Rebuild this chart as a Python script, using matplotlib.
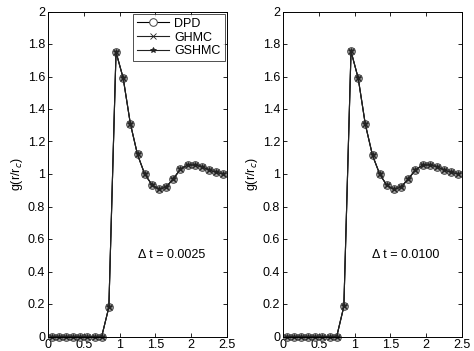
import numpy as np
import matplotlib
matplotlib.use("Agg")
from matplotlib import pyplot as plt

plt.rcParams["font.family"] = ["Liberation Sans", "DejaVu Sans"]
plt.rcParams["font.size"] = 9

# r/rc bins and g(r) values
r = [0.05, 0.15, 0.25, 0.35, 0.45, 0.55, 0.65, 0.75, 0.85, 0.95,
     1.05, 1.15, 1.25, 1.35, 1.45, 1.55, 1.65, 1.75, 1.85, 1.95,
     2.05, 2.15, 2.25, 2.35, 2.45]
g_left = [0, 0, 0, 0, 0, 0, 0, 0, 0.18, 1.75,
          1.59, 1.31, 1.12, 1.00, 0.935, 0.905, 0.92, 0.97, 1.03, 1.055,
          1.055, 1.045, 1.025, 1.01, 1.00]
g_right = [0, 0, 0, 0, 0, 0, 0, 0, 0.185, 1.755,
           1.59, 1.305, 1.115, 1.00, 0.93, 0.905, 0.92, 0.97, 1.025, 1.055,
           1.055, 1.045, 1.025, 1.01, 1.00]
methods = ["DPD", "GHMC", "GSHMC"]
marks = ["o", "x", "*"]
dt_labels = ["\u0394 t = 0.0025", "\u0394 t = 0.0100"]

fig = plt.figure(figsize=(4.74, 3.51), dpi=100)
ax1 = fig.add_axes([48 / 474, 1 - 336.5 / 351, 179 / 474, 325 / 351])
ax2 = fig.add_axes([283 / 474, 1 - 336.5 / 351, 179 / 474, 325 / 351])

for ax, g, lab in zip([ax1, ax2], [g_left, g_right], dt_labels):
    for m, mk in zip(methods, marks):
        if mk == "o":
            # open-ish circles, the x and * sit on top of them
            ax.plot(r, g, color="black", lw=0.8, marker="o", ms=5.5,
                    mfc="#b0b0b0", mec="#444444", mew=0.7, label=m,
                    clip_on=False, zorder=3)
        else:
            ax.plot(r, g, color="#222222", lw=0.8, marker=mk, ms=4,
                    mew=0.6, label=m, clip_on=False, zorder=4)
    ax.set_xlim(0, 2.5)
    ax.set_ylim(0, 2)
    ax.set_xticks([0, 0.5, 1, 1.5, 2, 2.5])
    ax.set_xticklabels(["0", "0.5", "1", "1.5", "2", "2.5"])
    ax.set_yticks(np.arange(0, 2.01, 0.2))
    ax.set_yticklabels(["0", "0.2", "0.4", "0.6", "0.8", "1",
                        "1.2", "1.4", "1.6", "1.8", "2"])
    ax.tick_params(direction="in", top=True, right=True, length=3,
                   width=0.6, labelsize=9, pad=2)
    for s in ax.spines.values():
        s.set_linewidth(0.7)
        s.set_zorder(5)
    ax.set_ylabel("g(r/r$_c$)", fontsize=9, labelpad=2)
    ax.text(1.25, 0.5, lab, fontsize=9, va="center")

# legend only in the left panel, open circle in the key
leg = ax1.legend(loc="upper right", fontsize=9, frameon=True,
                 fancybox=False, edgecolor="black", borderaxespad=0.2,
                 handlelength=2.6, labelspacing=0.15, borderpad=0.3,
                 handletextpad=0.4)
leg.get_frame().set_linewidth(0.6)
leg.legend_handles[0].set_markerfacecolor("white")

fig.savefig("out.png", dpi=100)
